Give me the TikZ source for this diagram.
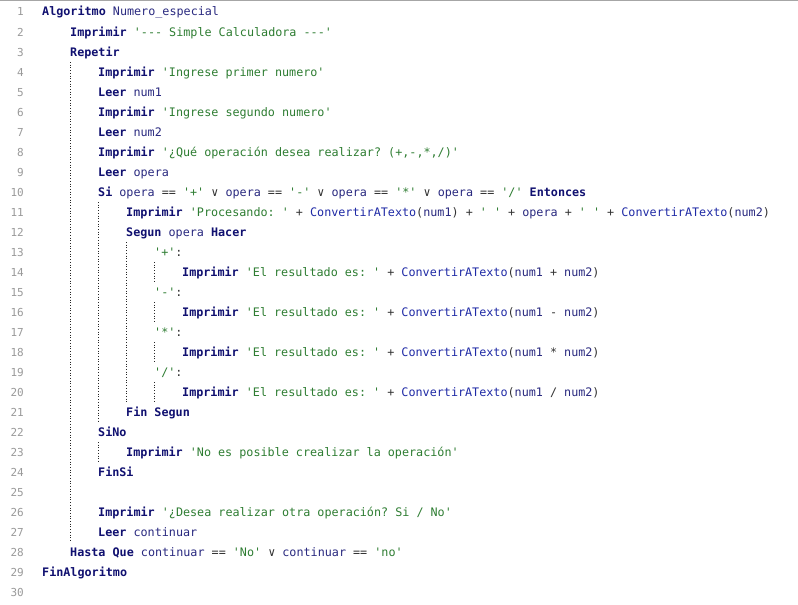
\documentclass[tikz,border=0pt]{standalone}
\usepackage{fontspec}
\setmonofont{DejaVu Sans Mono}
\definecolor{kw}{HTML}{101070}
\definecolor{st}{HTML}{2E7D32}
\definecolor{idc}{HTML}{2A2A80}
\definecolor{fnc}{HTML}{1F2AA6}
\definecolor{op}{HTML}{333333}
\definecolor{ln}{HTML}{9A9A9A}
\newcommand{\Ks}[1]{\textbf{\color{kw}#1}}
\newcommand{\Ss}[1]{{\color{st}#1}}
\newcommand{\Is}[1]{{\color{idc}#1}}
\newcommand{\Fs}[1]{{\color{fnc}#1}}
\begin{document}
\begin{tikzpicture}[x=1pt,y=-1pt,
  code/.style={anchor=base west,inner sep=0pt,font=\ttfamily\fontsize{11.75}{14}\selectfont,text=op},
  lnum/.style={anchor=base east,inner sep=0pt,font=\ttfamily\fontsize{11}{13}\selectfont,text=ln},
  guide/.style={dotted,line width=0.7pt,black!85}]
\useasboundingbox (0,0) rectangle (798,605);
\fill[white] (0,0) rectangle (798,605);
\draw[gray!70,line width=1pt] (0,0.5) -- (798,0.5);
\foreach \n in {1,...,30}{\node[lnum] (n\n) at (24,{16+20*(\n-1)}) {\n};}
\newcommand{\Ln}[3]{\node[code] (l#1) at ({42+28*#2},{16+20*(#1-1)}) {#3};}
\Ln{1}{0}{\Ks{Algoritmo} \Is{Numero\_especial}}
\Ln{2}{1}{\Ks{Imprimir} \Ss{'--- Simple Calculadora ---'}}
\Ln{3}{1}{\Ks{Repetir}}
\Ln{4}{2}{\Ks{Imprimir} \Ss{'Ingrese primer numero'}}
\Ln{5}{2}{\Ks{Leer} \Is{num1}}
\Ln{6}{2}{\Ks{Imprimir} \Ss{'Ingrese segundo numero'}}
\Ln{7}{2}{\Ks{Leer} \Is{num2}}
\Ln{8}{2}{\Ks{Imprimir} \Ss{'¿Qué operación desea realizar? (+,-,*,/)'}}
\Ln{9}{2}{\Ks{Leer} \Is{opera}}
\Ln{10}{2}{\Ks{Si} \Is{opera} == \Ss{'+'} ∨ \Is{opera} == \Ss{'-'} ∨ \Is{opera} == \Ss{'*'} ∨ \Is{opera} == \Ss{'/'} \Ks{Entonces}}
\Ln{11}{3}{\Ks{Imprimir} \Ss{'Procesando: '} + \Fs{ConvertirATexto}(\Is{num1}) + \Ss{' '} + \Is{opera} + \Ss{' '} + \Fs{ConvertirATexto}(\Is{num2})}
\Ln{12}{3}{\Ks{Segun} \Is{opera} \Ks{Hacer}}
\Ln{13}{4}{\Ss{'+'}:}
\Ln{14}{5}{\Ks{Imprimir} \Ss{'El resultado es: '} + \Fs{ConvertirATexto}(\Is{num1} + \Is{num2})}
\Ln{15}{4}{\Ss{'-'}:}
\Ln{16}{5}{\Ks{Imprimir} \Ss{'El resultado es: '} + \Fs{ConvertirATexto}(\Is{num1} - \Is{num2})}
\Ln{17}{4}{\Ss{'*'}:}
\Ln{18}{5}{\Ks{Imprimir} \Ss{'El resultado es: '} + \Fs{ConvertirATexto}(\Is{num1} * \Is{num2})}
\Ln{19}{4}{\Ss{'/'}:}
\Ln{20}{5}{\Ks{Imprimir} \Ss{'El resultado es: '} + \Fs{ConvertirATexto}(\Is{num1} / \Is{num2})}
\Ln{21}{3}{\Ks{Fin Segun}}
\Ln{22}{2}{\Ks{SiNo}}
\Ln{23}{3}{\Ks{Imprimir} \Ss{'No es posible crealizar la operación'}}
\Ln{24}{2}{\Ks{FinSi}}
\Ln{26}{2}{\Ks{Imprimir} \Ss{'¿Desea realizar otra operación? Si / No'}}
\Ln{27}{2}{\Ks{Leer} \Is{continuar}}
\Ln{28}{1}{\Ks{Hasta Que} \Is{continuar} == \Ss{'No'} ∨ \Is{continuar} == \Ss{'no'}}
\Ln{29}{0}{\Ks{FinAlgoritmo}}
% guides
\draw[guide] (70,62) -- (70,542);
\draw[guide] (98,202) -- (98,422);
\draw[guide] (98,442) -- (98,462);
\draw[guide] (126,242) -- (126,402);
\foreach \y in {262,302,342,382}{\draw[guide] (154,\y) -- (154,\y+20);}
\end{tikzpicture}
\end{document}
